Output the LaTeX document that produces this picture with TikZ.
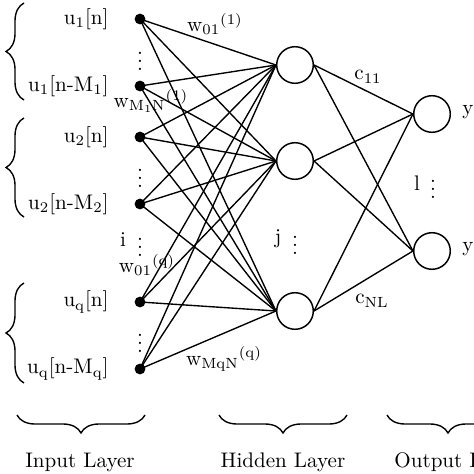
\documentclass[tikz,border=0pt]{standalone}
\usepackage{amsmath}
\usetikzlibrary{decorations.pathreplacing}

\begin{document}
\begin{tikzpicture}[
  x=0.1667mm, y=-0.1667mm,
  inp/.style={circle, fill=black, inner sep=0pt, minimum size=1.8mm},
  neuron/.style={circle, draw=black, line width=0.7pt, minimum size=6.1mm, inner sep=0pt},
  link/.style={line width=0.65pt},
  sig/.style={anchor=east, inner sep=0pt},
  dots/.style={inner sep=0pt},
  layerbrace/.style={decorate, decoration={brace, amplitude=3mm}, line width=0.65pt}
]
\useasboundingbox (0,0) rectangle (474,474);

% input taps
\node (u1n) [inp] at (140,19) {};
\node (u1m) [inp] at (140,86) {};
\node (u2n) [inp] at (140,137) {};
\node (u2m) [inp] at (140,204) {};
\node (uqn) [inp] at (140,302) {};
\node (uqm) [inp] at (140,369) {};

\node (t1n) [sig] at (109,19) {u$_1$[n]};
\node (t1m) [sig] at (109,86) {u$_1$[n-M$_1$]};
\node (t2n) [sig] at (109,137) {u$_2$[n]};
\node (t2m) [sig] at (109,204) {u$_2$[n-M$_2$]};
\node (tqn) [sig] at (109,302) {u$_\mathrm{q}$[n]};
\node (tqm) [sig] at (109,369) {u$_\mathrm{q}$[n-M$_\mathrm{q}$]};

\node (d1) [dots] at (140,55) {$\vdots$};
\node (d2) [dots] at (140,172) {$\vdots$};
\node (d3) [dots] at (140,241) {$\vdots$};
\node (di) [dots] at (123,240) {i};
\node (d4) [dots] at (140,337) {$\vdots$};

% hidden and output neurons
\node (h1) [neuron] at (295,65) {};
\node (h2) [neuron] at (295,161) {};
\node (h3) [neuron] at (295,311) {};
\node (o1) [neuron] at (432,114) {};
\node (o2) [neuron] at (432,251) {};

\node (dj) [dots] at (278,239) {j};
\node (dh) [dots] at (295,239) {$\vdots$};
\node (dl) [dots] at (417,183) {l};
\node (do) [dots] at (433,183) {$\vdots$};

\node (y1) [anchor=west, inner sep=0pt] at (462,112) {y};
\node (y2) [anchor=west, inner sep=0pt] at (462,249) {y};

% connections
\foreach \i in {u1n,u1m,u2n,u2m,uqn,uqm}
  \foreach \j in {h1,h2,h3}
    \draw[link] (\i.center) -- (\j.west);
\foreach \j in {h1,h2,h3}
  \foreach \k in {o1,o2}
    \draw[link] (\j.east) -- (\k.west);

% weights
\node (w1) at (215,24) {$\mathrm{w}_{\mathrm{01}}{}^{(1)}$};
\node (w2) at (151,101) {$\mathrm{w}_{\mathrm{M_1N}}{}^{(1)}$};
\node (w3) at (147,265) {$\mathrm{w}_{\mathrm{01}}{}^{(\mathrm{q})}$};
\node (w4) at (224,359) {$\mathrm{w}_{\mathrm{MqN}}{}^{(\mathrm{q})}$};
\node (c1) at (368,77) {$\mathrm{c}_{\mathrm{11}}$};
\node (c2) at (372,301) {$\mathrm{c}_{\mathrm{NL}}$};

% braces
\draw[layerbrace] (24,100) -- (24,3);
\draw[layerbrace] (24,217) -- (24,118);
\draw[layerbrace] (24,383) -- (24,283);
\draw[layerbrace] (145,415) -- (17,415);
\draw[layerbrace] (347,415) -- (219,415);
\draw[layerbrace] (509,415) -- (387,415);

\node (li) at (80,462) {Input Layer};
\node (lh) at (283,462) {Hidden Layer};
\node (lo) [anchor=west, inner sep=0pt] at (394,462) {Output Layer};

\end{tikzpicture}
\end{document}
